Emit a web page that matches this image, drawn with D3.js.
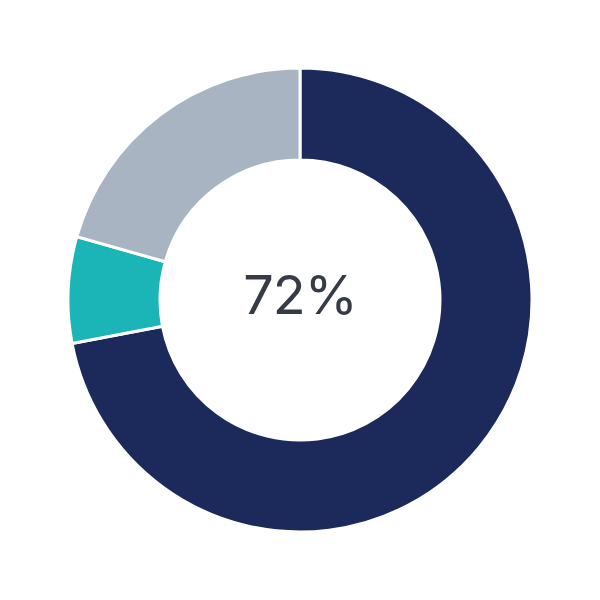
<!DOCTYPE html>
<html>
<head>
<meta charset="utf-8">
<script src="https://cdn.jsdelivr.net/npm/d3@7"></script>
<style>
  html, body { margin: 0; padding: 0; background: #fff; }
</style>
</head>
<body>
<div id="chart"></div>
<script>
// data /////////////////////////////////////////////////////////////
const categories = ['A', 'B', 'C'];
const values = [72, 7.4, 20.6];
const colors = ['#1b2a5a', '#1bb5b7', '#a9b4c3'];
const centerLabel = '72%';

const width = 600, height = 600;
const outerR = 232, innerR = 140;

const svg = d3.select('#chart').append('svg')
  .attr('width', width)
  .attr('height', height)
  .attr('viewBox', [0, 0, width, height]);

const g = svg.append('g').attr('transform', `translate(${width / 2},${height / 2})`);

const pie = d3.pie().sort(null).value(d => d.value);
const arc = d3.arc().innerRadius(innerR).outerRadius(outerR);

const data = categories.map((c, i) => ({ name: c, value: values[i], color: colors[i] }));

g.selectAll('path')
  .data(pie(data))
  .join('path')
  .attr('d', arc)
  .attr('fill', d => d.data.color)
  .attr('stroke', '#fff')
  .attr('stroke-width', 3);

g.append('text')
  .attr('text-anchor', 'middle')
  .attr('y', -5)
  .attr('dy', '0.35em')
  .attr('font-family', 'Inter, "Noto Sans", sans-serif')
  .attr('font-size', 54)
  .attr('letter-spacing', -1)
  .attr('fill', '#363b45')
  .text(centerLabel);
</script>
</body>
</html>
